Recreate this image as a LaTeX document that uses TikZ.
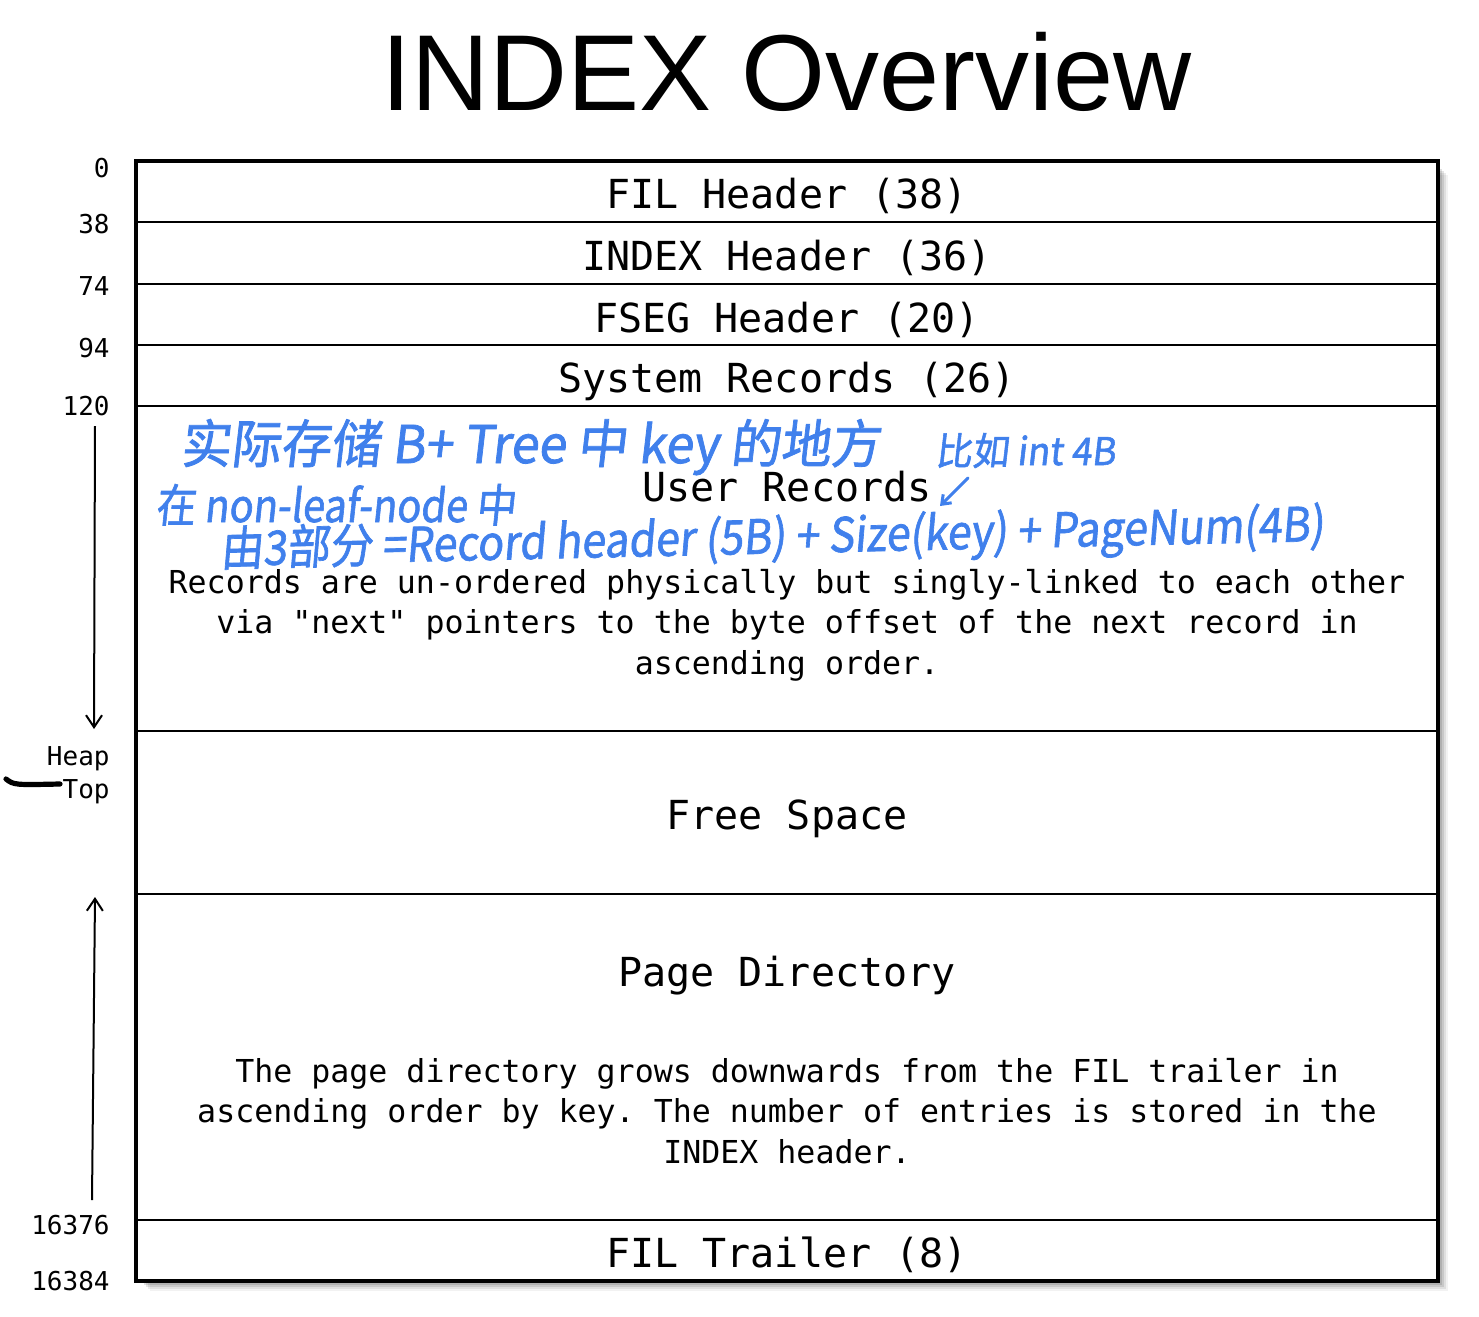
\documentclass[tikz,border=0pt]{standalone}
\usepackage{fontspec}
\setmainfont{Liberation Sans}
\setmonofont{DejaVu Sans Mono}
\newfontfamily\hand[FakeSlant=0.12,FakeBold=1.5]{Noto Sans CJK SC}
\usetikzlibrary{arrows.meta}
\definecolor{handblue}{RGB}{64,128,236}
\begin{document}
\begin{tikzpicture}[x=0.5pt,y=-0.5pt,
  lbl/.style={font=\fontsize{20}{24}\selectfont\ttfamily, inner sep=0},
  body/.style={font=\fontsize{15.8}{20.3}\selectfont\ttfamily, align=center, inner sep=0},
  num/.style={font=\fontsize{13}{16.5}\selectfont\ttfamily, anchor=east, inner sep=0, align=right},
  hw/.style={text=handblue, inner sep=0, anchor=base west, font=\hand},
  rowline/.style={line width=1pt},
  outer/.style={line width=1.6pt},
  growarrow/.style={line width=1pt, -{Straight Barb[length=6pt,width=8pt]}},
]
\useasboundingbox (0,0) rectangle (1479,1317);
% shadow
\foreach \o/\op in {10/0.05,8/0.08,6/0.1,4/0.12}{
  \fill[black,opacity=\op] (140+\o,165+\o) rectangle (1438+\o,1281+\o);
}
\fill[white] (136,161) rectangle (1438,1281);

\node[font=\fontsize{54}{60}\selectfont] (title) at (787,72) {INDEX Overview};

% rows
\foreach \y in {222,284,345,406,731,894,1220}{
  \draw[rowline] (136,\y) -- (1438,\y);
}
\draw[outer] (136,161) rectangle (1438,1281);

\node[lbl] (fil) at (787,196) {FIL Header (38)};
\node[lbl] (idx) at (787,258) {INDEX Header (36)};
\node[lbl] (fseg) at (787,320) {FSEG Header (20)};
\node[lbl] (sys) at (787,381) {System Records (26)};
\node[lbl] (user) at (787,487) {User Records};
\node[body] (userdesc) at (787,625) {Records are un-ordered physically but singly-linked to each other\\via "next" pointers to the byte offset of the next record in\\ascending order.};
\node[lbl] (free) at (787,819) {Free Space};
\node[lbl] (pdir) at (787,976) {Page Directory};
\node[body] (pdesc) at (787,1111) {The page directory grows downwards from the FIL trailer in\\ascending order by key. The number of entries is stored in the\\INDEX header.};
\node[lbl] (trail) at (787,1255) {FIL Trailer (8)};

% offsets
\node[num] (o0) at (110,168) {0};
\node[num] (o38) at (110,224) {38};
\node[num] (o74) at (110,286) {74};
\node[num] (o94) at (110,348) {94};
\node[num] (o120) at (110,406) {120};
\node[num] (o16376) at (110,1225) {16376};
\node[num] (o16384) at (110,1281) {16384};
\node[num] (heap) at (110,775) {Heap\\Top};

% growth arrows
\coordinate (d1) at (95,426);
\coordinate (d2) at (94,729);
\coordinate (u1) at (92,1200);
\coordinate (u2) at (95,897);
\draw[growarrow] (d1) -- (d2);
\draw[growarrow] (u1) -- (u2);
\coordinate (hs1) at (6,779);
\coordinate (hs2) at (60,784);
\draw[line width=2.6pt, line cap=round] (hs1) .. controls (14,785) .. (hs2);

% handwritten notes
\node[hw] (h1) at (180,463) {\resizebox{350pt}{22pt}{实际存储 B+ Tree 中 key 的地方}};
\node[hw] (h2) at (155,522) {\resizebox{180pt}{19pt}{在 non-leaf-node 中}};
\node[hw, rotate=1.3] (h3) at (220,566) {\resizebox{552pt}{20pt}{由3部分 =Record header (5B) + Size(key) + PageNum(4B)}};
\node[hw] (h4) at (935,465) {\resizebox{90pt}{16pt}{比如 int 4B}};
\coordinate (na1) at (968,478);
\coordinate (na2) at (940,506);
\draw[handblue, line width=1.5pt, line cap=round, -{Straight Barb[length=4pt,width=6pt]}] (na1) -- (na2);
\end{tikzpicture}
\end{document}
